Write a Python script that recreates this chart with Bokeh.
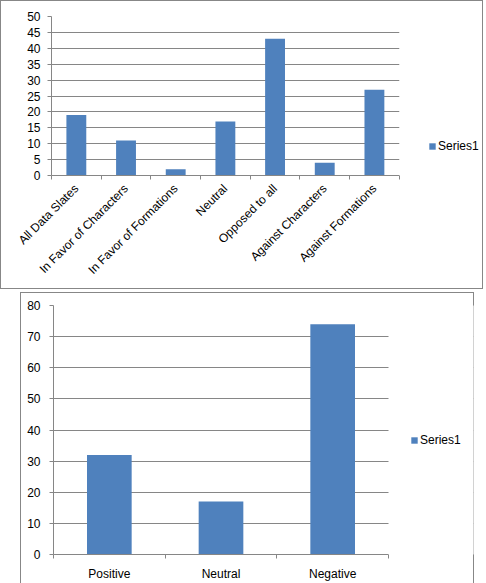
from bokeh.plotting import figure
from bokeh.layouts import column
from bokeh.models import (Range1d, FixedTicker, SingleIntervalTicker, Legend,
                          LegendItem, ColumnDataSource, BoxAnnotation)
from bokeh.embed import file_html
from bokeh.resources import INLINE
import math

# ---- data ----
top_categories = ["All Data Slates", "In Favor of Characters", "In Favor of Formations",
                  "Neutral", "Opposed to all", "Against Characters", "Against Formations"]
top_values = [19, 11, 2, 17, 43, 4, 27]

bottom_categories = ["Positive", "Neutral", "Negative"]
bottom_values = [32, 17, 74]

series_name = "Series1"

BAR = "#4F81BD"
GRID = "#868686"
BORDER = "#878787"
FONT = "Liberation Sans"


def make_chart(cats, vals, ymax, yint, width, height, mb, cat_px, legend_loc, rotate,
               x_standoff, y_standoff, styles, margin, border_fill):
    n = len(cats)
    frame_w = width - mb[0] - mb[1]
    x_end = n * frame_w / cat_px
    p = figure(width=width, height=height, output_backend="svg", toolbar_location=None,
               x_range=Range1d(0, x_end), y_range=Range1d(0, ymax),
               min_border_left=mb[0], min_border_right=mb[1],
               min_border_top=mb[2], min_border_bottom=mb[3],
               styles=styles, margin=margin)
    p.outline_line_color = None
    p.background_fill_color = "white"
    p.border_fill_color = border_fill

    src = ColumnDataSource(dict(x=[i + 0.5 for i in range(n)], top=vals))
    r = p.vbar(x="x", top="top", width=0.4, bottom=0, source=src,
               fill_color=BAR, line_color=None)

    # x axis: labels at centers, tick marks at category boundaries
    xa = p.xaxis[0]
    xa.axis_label = None
    xa.bounds = (0, n)
    xa.ticker = FixedTicker(ticks=[i + 0.5 for i in range(n)],
                            minor_ticks=list(range(n + 1)))
    xa.major_label_overrides = {i + 0.5: c for i, c in enumerate(cats)}
    xa.major_tick_line_color = None
    xa.major_tick_out = 0
    xa.major_tick_in = 0
    xa.minor_tick_out = 4
    xa.minor_tick_in = 0
    xa.minor_tick_line_color = GRID
    xa.axis_line_color = GRID
    xa.major_label_text_font = FONT
    xa.major_label_text_font_size = "12px"
    xa.major_label_text_color = "black"
    xa.major_label_standoff = x_standoff
    if rotate:
        xa.major_label_orientation = math.pi / 4

    ya = p.yaxis[0]
    ya.axis_label = None
    ya.ticker = SingleIntervalTicker(interval=yint, num_minor_ticks=0)
    ya.major_tick_out = 4
    ya.major_tick_in = 0
    ya.minor_tick_line_color = None
    ya.major_tick_line_color = GRID
    ya.axis_line_color = GRID
    ya.major_label_text_font = FONT
    ya.major_label_text_font_size = "12px"
    ya.major_label_text_color = "black"
    ya.major_label_standoff = y_standoff

    p.xgrid.grid_line_color = None
    p.ygrid.grid_line_color = GRID
    p.ygrid.ticker = SingleIntervalTicker(interval=yint, num_minor_ticks=0)

    # blank the legend area to the right of the plot area (gridlines stop at last category)
    p.add_layout(BoxAnnotation(left=n, fill_color="white", fill_alpha=1.0,
                               line_color=None, level="annotation"))

    leg = Legend(items=[LegendItem(label=series_name, renderers=[r])],
                 location=legend_loc, orientation="vertical")
    leg.border_line_color = None
    leg.background_fill_alpha = 0
    leg.padding = 0
    leg.margin = 0
    leg.spacing = 0
    leg.glyph_width = 8
    leg.glyph_height = 8
    leg.label_height = 14
    leg.label_standoff = 2
    leg.label_text_font = FONT
    leg.label_text_font_size = "12px"
    leg.label_text_color = "black"
    p.add_layout(leg, "center")
    return p


# top chart: outlined figure at page x 0..483, y 0..289
top = make_chart(top_categories, top_values, 50, 5, 483, 289,
                 (41, 1, 15, 115), 355, (377, 22), True, 7, 7,
                 {"border": "1px solid " + BORDER, "box-sizing": "border-box"},
                 (0, 0, 0, 0), "white")

# bottom chart: the figure starts at x=3; outline (left, top, right) as CSS lines
line = "linear-gradient(%s, %s)" % (BORDER, BORDER)
bottom_styles = {
    "background-image": ", ".join([line, line, line]),
    "background-size": "1px 100%, 454px 1px, 1px 100%",
    "background-position": "17px 0px, 17px 0px, 470px 0px",
    "background-repeat": "no-repeat",
}
bottom = make_chart(bottom_categories, bottom_values, 80, 10, 471, 291,
                    (50, 1, 13, 29), 335, (357, 107), False, 8, 9,
                    bottom_styles, (3, 0, 0, 3), None)

layout = column(top, bottom, spacing=0)
open("out.html", "w").write(file_html(layout, INLINE))
